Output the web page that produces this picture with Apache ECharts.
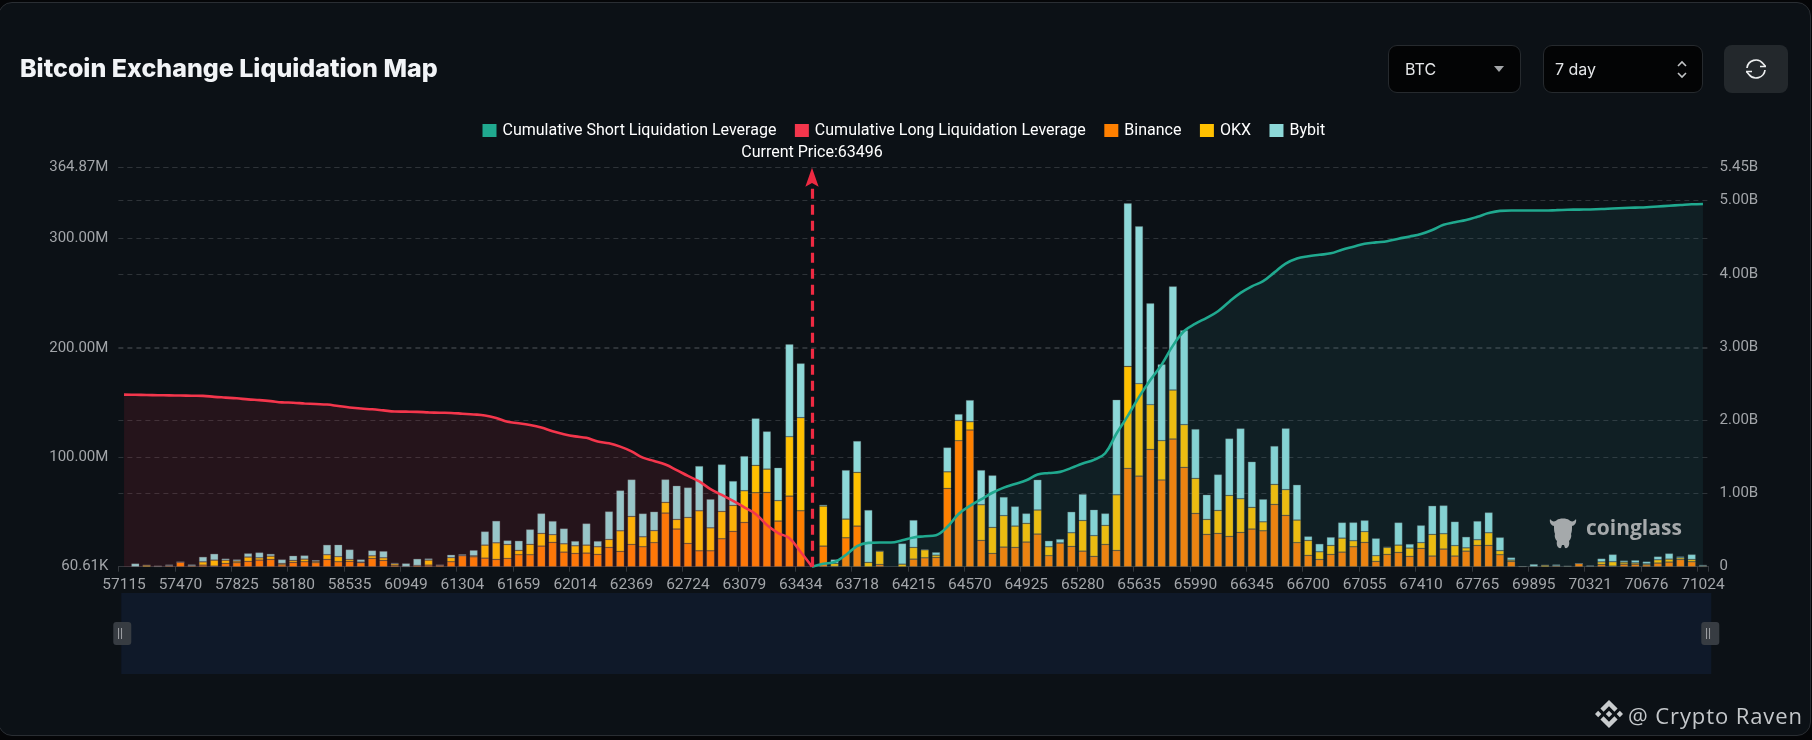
<!DOCTYPE html>
<html><head><meta charset="utf-8">
<script src="https://cdn.jsdelivr.net/npm/echarts@6/dist/echarts.min.js"></script>
<style>
html,body{margin:0;padding:0;background:#050608;width:1812px;height:740px;overflow:hidden}
#card{position:absolute;left:-2px;top:2px;width:1811px;height:732px;background:#0c1116;border:1px solid #2a2e33;border-radius:14px}
#chart{position:absolute;left:0;top:0;width:1812px;height:740px}
.box{position:absolute;top:45px;height:46px;background:#030405;border:1px solid #262a2e;border-radius:9px;color:#e4e6e8;font:16px/46px Inter,sans-serif;box-sizing:content-box}
.box span{position:absolute;left:16px;top:0}
#raven{position:absolute;left:1628px;top:698px;font:22px/34px "Open Sans",sans-serif;color:#c4c7ca;white-space:nowrap;letter-spacing:.9px}
</style></head><body>
<div id="card"></div>
<div id="chart"></div>
<div class="box" style="left:1388px;width:131px"><span>BTC</span>
<svg style="position:absolute;left:104px;top:20px" width="12" height="7"><path d="M1 0H11L6 6Z" fill="#a3a6a9"/></svg></div>
<div class="box" style="left:1543px;width:158px"><span style="left:11px">7 day</span>
<svg style="position:absolute;left:132px;top:14px" width="12" height="19"><path d="M2 6L6 2L10 6M2 13L6 17L10 13" fill="none" stroke="#c2c4c6" stroke-width="1.6"/></svg></div>
<div style="position:absolute;left:1724px;top:45px;width:64px;height:48px;background:#23282c;border-radius:8px">
<svg style="position:absolute;left:20px;top:12px" width="24" height="24" viewBox="0 0 24 24" fill="none" stroke="#eceeef" stroke-width="1.7"><path d="M3 11A9 9 0 0 1 19 6.5L21.500 9.500M21 13A9 9 0 0 1 5 17.500L2.500 14.500"/><path d="M2 14.500H8M16 9.500H22"/></svg></div>
<svg style="position:absolute;left:1595px;top:700px" width="28" height="28" viewBox="0 0 126.61 126.61" fill="#c9ccce"><path d="M38.73 53.2l24.59-24.58 24.6 24.6 14.3-14.31L63.32 0 24.42 38.9zM0 63.31l14.3-14.31 14.31 14.31-14.31 14.3zM38.73 73.41l24.59 24.59 24.6-24.6 14.31 14.29-38.9 38.91-38.91-38.88-.02-.02zM98.01 63.31l14.3-14.31 14.3 14.3-14.3 14.31zM77.83 63.3h.01L63.32 48.78 48.82 63.3l14.5 14.55 14.52-14.52z"/></svg>
<svg style="position:absolute;left:1548px;top:515px" width="30" height="35" viewBox="0 0 30 35" fill="#a5a9ab"><path d="M2 4C4 7 7 7 9 5C11 3 19 3 21 5C23 7 26 7 28 4C29 8 26 11 24 11C24 14 24 17 23 19C24 22 22 25 21 26C22 30 20 34 17 33L16 30L14 30L13 33C10 34 8 30 9 26C8 25 6 22 7 19C6 17 6 14 6 11C4 11 1 8 2 4Z"/></svg>
<div id="raven">@ Crypto Raven</div>
<script>
const tickLabels=['57115','57470','57825','58180','58535','60949','61304','61659','62014','62369','62724','63079','63434','63718','64215','64570','64925','65280','65635','65990','66345','66700','67055','67410','67765','69895','70321','70676','71024'];
const seriesNames=['Cumulative Short Liquidation Leverage','Cumulative Long Liquidation Leverage','Binance','OKX','Bybit'];
const currentPriceIndex=61;
const currentPriceText='Current Price:63496';
const binance=[0,0,0,.3,.9,4.3,.9,1.5,.6,3,3.7,4.9,6.1,6.7,1.8,4,4.6,3.7,6.7,4.6,4.9,3.7,7.6,5.8,1.2,.2,1.2,1.5,1.5,4.6,10.1,9.1,7.9,6.7,7.6,11,11,18.9,22.3,13.4,12.2,12.5,11.3,17.7,14,20.4,18.3,22,49.1,34.5,21.3,14.6,14.6,25.6,32.3,40.5,67.7,68,41.8,64.6,51.2,0,18.9,.3,26.5,37.2,0,2.1,0,0,7,8.2,8.5,71.6,115.2,125,24.1,12.2,18,17.7,22.6,29.9,10.1,21.6,18.6,14.3,9.5,20.4,14.9,89.9,82.9,107.3,79.3,116.8,90.9,48.8,29.6,30.5,27.7,31.4,34.5,32.9,57,47,22,10.4,6.7,11.3,13.4,18.3,22.3,4.9,11.3,13.1,9.5,16.8,9.8,16.2,9.8,14.3,19.5,19.5,11,4.9,.1,.3,0,.9,0,3,.6,2.1,.6,2.4,2.4,1.8,3.4,4.3,6.7,4.6,.3];
const okx=[0,0,1.5,.3,.2,0,0,3,5.5,3,1.5,4,2.1,3,1.2,1.8,2.4,1.2,4.3,4.6,1.8,.6,2.4,2.4,1.5,0,0,4.6,0,3.7,.2,.9,11.9,15.2,12.8,4,9.5,11.6,7,7.6,7,7.3,7,7.3,18.9,25.6,9.1,11,9.8,8.8,23.8,36.6,21,25,23.8,29,25,21.3,18.6,54.3,85.1,0,36.6,2.7,17.1,49.1,4,12.2,0,2.4,10.7,7.3,2.1,15.2,18.6,7.6,32.6,23.8,28.7,19.5,17.1,22,8.2,.3,12.5,28,18.9,17.4,50.9,93.3,84.5,40.9,36,44.8,39,32,13.7,21,37.5,30.8,19.8,8.2,18.3,23.5,20.7,13.7,7,8.2,12.8,5.5,9.8,5.2,6.4,6.7,7.6,5.2,19.8,14,9.5,3,5.2,11.6,3.7,1.2,0,0,1.5,0,.6,0,0,2.4,4,1.8,1.2,.9,3,2.7,1.5,2.1,.6];
const bybit=[0,3,0,0,.9,0,1.2,4.6,5.8,1.5,1.5,3.4,4.9,2.1,3.7,4.3,3.4,1.2,9.1,11,9.1,2.4,4.9,6.1,.9,2.9,6.1,1.5,0,2.7,1.1,5.2,12.5,20.1,3.7,8.8,13.7,18.3,12.5,14,4.3,19.8,5.2,25.6,36.9,33.8,21.3,17.4,21,30.8,27.4,40.9,26.2,43,22.3,31.7,43,34.5,30.2,84.5,49.7,0,1.2,3.7,44.8,28.7,47.9,0,0,18.9,25,.6,2.7,22.3,5.8,19.8,31.7,47.6,17.1,18,9.1,27.7,5.5,3.4,19.2,24.1,23.8,11,86.9,149.1,143.9,92.7,69.8,94.8,86.3,45.1,22.6,32.9,52.1,64.3,41.8,20.7,35.1,56.1,32.3,3.7,7.3,7.6,14.3,16.8,10.4,15.9,.6,20.7,3.7,15.9,26.2,25.9,22,10.1,17.1,18.6,12.2,2.4,.2,2.1,0,1.2,0,0,.6,3,6.7,1.5,2.4,2.1,3,5.2,1.2,4.6,.9];
const cumLong=[2.35,2.348,2.345,2.342,2.34,2.338,2.335,2.333,2.32,2.31,2.3,2.285,2.275,2.262,2.245,2.24,2.23,2.222,2.215,2.195,2.175,2.16,2.15,2.135,2.12,2.118,2.115,2.108,2.103,2.1,2.09,2.08,2.065,2.03,1.98,1.96,1.935,1.9,1.85,1.81,1.78,1.76,1.71,1.685,1.64,1.575,1.49,1.445,1.395,1.32,1.24,1.165,1.06,.98,.9,.81,.72,.57,.46,.39,.2,0];
const cumShortFrom61=[0,.04,.065,.16,.28,.325,.33,.33,.36,.4,.415,.43,.545,.72,.83,.92,1.01,1.08,1.13,1.18,1.26,1.28,1.295,1.35,1.41,1.46,1.55,1.82,2.06,2.32,2.55,2.76,3.02,3.22,3.32,3.4,3.49,3.62,3.74,3.83,3.9,4.02,4.14,4.21,4.24,4.26,4.28,4.33,4.37,4.41,4.43,4.445,4.48,4.51,4.545,4.6,4.67,4.705,4.735,4.78,4.83,4.86,4.865,4.865,4.865,4.865,4.87,4.875,4.878,4.88,4.885,4.893,4.9,4.905,4.91,4.92,4.93,4.94,4.95,4.955];
const leftTicks=[.06061,100,200,300,364.87];
const rightTicks=[0,1,2,3,4,5,5.45];

const categories=binance.map((_,i)=>i%5===0?tickLabels[i/5]:'');
const cumShort=new Array(currentPriceIndex).fill(null).concat(cumShortFrom61);
const F='Roboto,sans-serif';
const gray='#a2a5a9';
const split={show:true,lineStyle:{color:'#2e3338',type:[5,4],width:1}};
const barSeries=(name,data,color)=>({name,type:'bar',stack:'liq',data,barWidth:8,yAxisIndex:0,z:2,
  itemStyle:{color,borderColor:'rgba(105,110,112,.55)',borderWidth:.6}});
const lineSeries=(name,data,color,areaColor,extra)=>Object.assign({name,type:'line',data,yAxisIndex:1,smooth:.4,symbol:'none',z:5,
  lineStyle:{color,width:2.6},itemStyle:{color},areaStyle:{color:areaColor,opacity:1}},extra||{});
const arrowHead='path://M0 0L0 0.01M20 20L20 19.99M10 0L17 20L10 16L3 20Z';
const chart=echarts.init(document.getElementById('chart'),null,{renderer:'canvas'});
chart.setOption({
  animation:false,backgroundColor:'transparent',
  title:{text:'Bitcoin Exchange Liquidation Map',left:15,top:52,textStyle:{color:'#f2f4f7',fontFamily:'Inter,sans-serif',fontWeight:800,fontSize:25}},
  legend:{data:seriesNames,left:477.5,top:117.5,itemWidth:14,itemHeight:13,itemGap:18.5,icon:'rect',
    itemStyle:{borderWidth:0},textStyle:{color:'#fff',fontFamily:F,fontSize:16,padding:[0,0,0,1]}},
  grid:{left:118.4,right:103.4,top:167.7,bottom:173.3,containLabel:false},
  xAxis:{type:'category',data:categories,boundaryGap:true,
    axisLine:{lineStyle:{color:'#34383d'}},
    axisTick:{show:true,interval:4,length:5,lineStyle:{color:'#34383d'}},
    axisLabel:{interval:4,color:gray,fontFamily:F,fontSize:15.5,margin:10,hideOverlap:false}},
  yAxis:[
    {type:'value',min:.06061,max:364.87,position:'left',splitLine:split,axisLine:{show:false},
     axisTick:{show:false,customValues:leftTicks},
     axisLabel:{customValues:leftTicks,color:gray,fontFamily:F,fontSize:15,margin:10,
       formatter:v=>v<1?'60.61K':v.toFixed(2)+'M'}},
    {type:'value',min:0,max:5.45,position:'right',splitLine:split,axisLine:{show:false},
     axisTick:{show:false,customValues:rightTicks},
     axisLabel:{customValues:rightTicks,color:gray,fontFamily:F,fontSize:15,margin:11,
       formatter:v=>v===0?'0':v.toFixed(2)+'B'}}
  ],
  dataZoom:[{type:'slider',xAxisIndex:0,left:120.5,width:1590,top:593,height:81,start:0,end:100,filterMode:'none',
    showDetail:false,showDataShadow:false,brushSelect:false,moveHandleSize:0,
    backgroundColor:'transparent',borderColor:'transparent',fillerColor:'#0f1929',
    handleIcon:'path://M3 0H15A3 3 0 0 1 18 3V20A3 3 0 0 1 15 23H3A3 3 0 0 1 0 20V3A3 3 0 0 1 3 0Z',
    handleSize:23,handleStyle:{color:'#373c42',borderColor:'#373c42',borderWidth:0}}],
  graphic:[
    {type:'text',left:1586,top:519,z:20,style:{text:'coinglass',fill:'#a5a9ab',font:'700 21px "Open Sans",sans-serif'}},
    {type:'text',left:117,top:628,z:20,style:{text:'||',fill:'#9b9ea2',font:'700 12px Roboto,sans-serif'}},
    {type:'text',left:1705,top:628,z:20,style:{text:'||',fill:'#9b9ea2',font:'700 12px Roboto,sans-serif'}}
  ],
  series:[
    lineSeries(seriesNames[0],cumShort,'#20a98f','rgba(60,160,170,.1)'),
    lineSeries(seriesNames[1],cumLong,'#f4364c','rgba(244,50,70,.11)',{
      markLine:{silent:true,z:6,symbol:['none',arrowHead],symbolSize:19,precision:4,
        lineStyle:{color:'#ee2a42',type:[10,6],width:3.2},
        label:{show:true,position:'end',formatter:currentPriceText,color:'#fff',fontFamily:F,fontSize:16,distance:16},
        data:[[{xAxis:currentPriceIndex,yAxis:0},{xAxis:currentPriceIndex,yAxis:5.32}]]}}),
    barSeries(seriesNames[2],binance,'#ff8000'),
    barSeries(seriesNames[3],okx,'#ffc000'),
    barSeries(seriesNames[4],bybit,'#8dd8d8')
  ]
});
</script></body></html>
